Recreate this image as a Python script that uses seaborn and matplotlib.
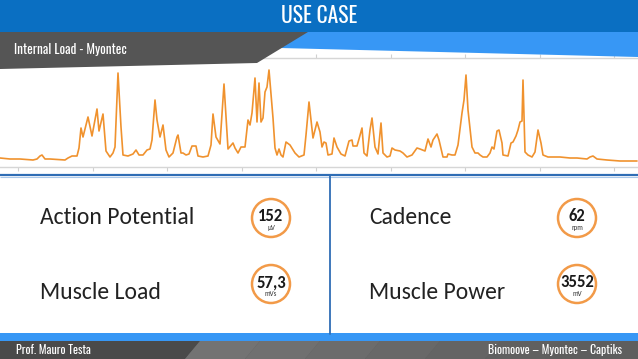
import numpy as np
import pandas as pd
import matplotlib
matplotlib.use("Agg")
import matplotlib.pyplot as plt
from matplotlib.patches import Polygon, Rectangle, Circle
import seaborn as sns

# EMG trace (Internal Load - Myontec)
t = [0, 10, 17, 20, 33, 37, 40, 42, 45, 50, 65, 68, 72, 77, 79, 81, 83, 88, 92, 97,
     99, 103, 106, 110, 113, 115, 118, 121, 123, 128, 133, 136, 139, 143, 147, 150, 152, 155, 157, 160,
     163, 166, 169, 173, 177, 178, 181, 183, 186, 189, 192, 196, 198, 203, 208, 211, 213, 216, 220, 224,
     228, 233, 235, 238, 241, 245, 248, 250, 252, 255, 257, 259, 261, 263, 265, 267, 269, 273, 275, 277,
     279, 281, 283, 286, 290, 295, 299, 304, 306, 309, 313, 317, 320, 322, 324, 326, 328, 332, 334, 337,
     341, 345, 349, 352, 353, 357, 359, 362, 364, 367, 370, 372, 375, 378, 381, 383, 387, 390, 392, 395,
     400, 403, 407, 412, 417, 420, 425, 428, 431, 433, 437, 439, 443, 447, 448, 452, 455, 458, 462, 464,
     466, 468, 472, 475, 478, 480, 483, 487, 490, 492, 494, 497, 499, 502, 503, 508, 511, 513, 516, 518,
     520, 522, 523, 525, 528, 532, 535, 538, 541, 543, 548, 553, 560, 570, 577, 587, 590, 593, 597, 607,
     620, 637]
load = [9, 8, 8, 8, 7, 8, 11, 12, 8, 8, 7, 9, 11, 11, 19, 39, 30, 50, 31, 58,
        36, 53, 16, 10, 14, 20, 94, 40, 12, 11, 13, 17, 12, 12, 17, 18, 27, 67, 47, 30,
        42, 17, 10, 14, 30, 32, 14, 14, 12, 13, 21, 21, 11, 10, 11, 22, 53, 30, 23, 83,
        18, 24, 19, 14, 20, 20, 47, 42, 54, 89, 45, 84, 45, 49, 75, 80, 97, 49, 19, 12,
        18, 12, 10, 25, 22, 14, 10, 12, 32, 65, 29, 45, 35, 20, 25, 24, 12, 13, 29, 20,
        13, 11, 26, 27, 21, 21, 28, 39, 14, 11, 37, 49, 20, 13, 44, 14, 10, 11, 19, 17,
        16, 14, 10, 12, 19, 18, 16, 28, 20, 27, 33, 27, 10, 10, 13, 12, 12, 22, 54, 67,
        92, 57, 20, 14, 14, 12, 10, 10, 14, 20, 18, 36, 37, 24, 12, 11, 24, 25, 31, 37,
        45, 46, 87, 15, 12, 10, 15, 37, 24, 12, 10, 10, 10, 9, 9, 8, 10, 11, 8, 7,
        6, 6]

metric_names = ["Action Potential", "Muscle Load", "Cadence", "Muscle Power"]
metric_values = ["152", "57,3", "62", "3552"]
metric_units = ["µV", "mVs", "rpm", "mV"]

df = pd.DataFrame({"t": t, "load": load})

sns.set_style("white")
narrow = ["Oswald", "Roboto Condensed", "DejaVu Sans"]
body = ["Carlito", "Lato", "DejaVu Sans"]
plt.rcParams["font.family"] = body

W, H = 638, 359
fig = plt.figure(figsize=(W / 100, H / 100), dpi=100)

# chart (drawn first, under the slide decorations)
ax = fig.add_axes([0, 1 - 167 / H, 1, 109 / H], zorder=0)
ax.patch.set_alpha(0)
sns.lineplot(data=df, x="t", y="load", ax=ax, color="#f0922e", linewidth=1.2)
ax.set_xlim(0, W)
ax.set_ylim(0, 109)
ax.set_xlabel("")
ax.set_ylabel("")
ax.set_yticks([])
ax.set_xticks(np.arange(18.3, W, 74.5))
ax.set_xticklabels([])
ax.tick_params(axis="x", which="both", bottom=True, top=True, length=3, width=0.8,
               color="#d0d0d0", direction="out")
for side in ["left", "right"]:
    ax.spines[side].set_visible(False)
for side in ["top", "bottom"]:
    ax.spines[side].set_color("#d6d6d6")
    ax.spines[side].set_linewidth(1)

# slide layer in pixel coordinates
bg = fig.add_axes([0, 0, 1, 1], zorder=1)
bg.set_xlim(0, W)
bg.set_ylim(H, 0)
bg.axis("off")

dark_blue = "#0a6fc2"
light_blue = "#3797f5"
gray = "#555555"

bg.add_patch(Rectangle((0, 0), W, 32, color=dark_blue, lw=0))
bg.add_patch(Polygon([(290, 32), (W, 32), (W, 57), (280, 48)], closed=True, color=light_blue, lw=0))
bg.add_patch(Polygon([(0, 32), (308, 32), (257, 63), (0, 69)], closed=True, color=gray, lw=0))
bg.text(W / 2, 16, "USE CASE", color="white", fontsize=15.5, fontweight="light",
        ha="center", va="center", family=narrow)
bg.text(14, 49, "Internal Load - Myontec", color="white", fontsize=9.5, fontweight="light",
        ha="left", va="center", family=narrow)

# separators
bg.plot([0, W], [175, 175], color="#2f6db5", lw=1.6, solid_capstyle="butt")
bg.plot([0, W], [176.8, 176.8], color="#a9c8ea", lw=0.8, solid_capstyle="butt")
bg.plot([330, 330], [175, 334], color="#2f6db5", lw=1.3)

# footer
bg.add_patch(Rectangle((0, 333), W, 8, color=light_blue, lw=0))
bg.add_patch(Rectangle((0, 341), W, 18, color="#5e5e5e", lw=0))
bg.add_patch(Polygon([(0, 341), (200, 341), (185, 359), (0, 359)], closed=True, color="#4a4a4a", lw=0))
shades = ["#737373", "#707070", "#6c6c6c", "#686868", "#646464", "#606060"]
for i, c in enumerate(shades):
    x0 = 200 + i * 60
    x1 = 260 + i * 60
    bg.add_patch(Polygon([(x0, 341), (x1, 341), (x1 - 15, 359), (x0 - 15, 359)],
                         closed=True, color=c, lw=0))
bg.text(16, 350, "Prof. Mauro Testa", color="white", fontsize=8.5, fontweight="light",
        ha="left", va="center", family=narrow)
bg.text(622, 350, "Biomoove \u2013 Myontec \u2013 Captiks", color="white", fontsize=8.5,
        fontweight="light", ha="right", va="center", family=narrow)

# metrics
label_pos = [(40, 224), (40, 299), (369, 224), (369, 299)]
circle_pos = [(271, 218), (271, 284), (577, 218), (577, 284)]
for name, val, unit, (lx, ly), (cx, cy) in zip(metric_names, metric_values, metric_units,
                                                label_pos, circle_pos):
    bg.text(lx, ly, name, fontsize=17, color="#222222", ha="left", va="baseline")
    bg.add_patch(Circle((cx, cy), 19, fill=False, ec="#f29a48", lw=1.8))
    bg.text(cx, cy - 2, val, fontsize=12, fontweight="bold", color="#1a1a1a",
            ha="center", va="center")
    bg.text(cx, cy + 9.5, unit, fontsize=5, color="#333333", ha="center", va="center")

fig.savefig("out.png", dpi=100)
